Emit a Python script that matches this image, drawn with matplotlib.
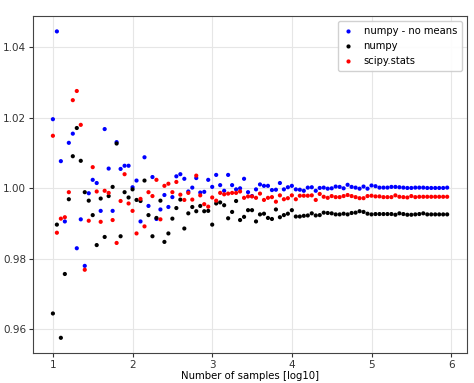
import numpy as np
import matplotlib
matplotlib.use('Agg')
import matplotlib.pyplot as plt

# log10 of the number of samples (100 steps of 0.05)
log_n = np.round(1 + 0.05 * np.arange(100), 2)

# variance ratio, numpy without subtracting the means
numpy_no_means = [
    1.0196, 1.0445, 1.0077, 0.9906, 1.0129, 1.0155, 0.9830, 0.9912, 0.9780, 0.9986,
    1.0024, 1.0015, 0.9936, 1.0168, 1.0056, 0.9936, 1.0131, 1.0055, 1.0064, 1.0064,
    1.0003, 1.0022, 0.9906, 1.0088, 0.9950, 1.0032, 0.9913, 0.9940, 0.9981, 0.9947,
    0.9975, 1.0034, 1.0040, 1.0027, 0.9991, 1.0002, 1.0029, 0.9988, 0.9990, 1.0024,
    1.0004, 1.0038, 1.0009, 0.9993, 1.0038, 1.0009, 0.9997, 1.0000, 1.0027, 0.9989,
    0.9978, 0.9997, 1.0011, 1.0007, 1.0007, 0.9995, 0.9996, 1.0015, 0.9997, 1.0003,
    1.0007, 0.9997, 0.9996, 0.9993, 1.0002, 1.0003, 0.9993, 1.0001, 1.0002, 0.9999,
    1.0000, 1.0005, 1.0004, 1.0000, 1.0010, 1.0004, 1.0002, 0.9999, 1.0005, 0.9999,
    1.0008, 1.0006, 1.0002, 1.0002, 1.0002, 1.0004, 1.0004, 1.0003, 1.0002, 1.0001,
    1.0001, 1.0002, 1.0002, 1.0002, 1.0001, 1.0001, 1.0001, 1.0001, 1.0001, 1.0002,
]

numpy_means = [
    0.9645, 0.9897, 0.9576, 0.9757, 0.9969, 1.0091, 1.0171, 1.0078, 0.9989, 0.9965,
    0.9924, 0.9839, 0.9971, 0.9862, 0.9978, 1.0004, 1.0127, 0.9864, 0.9989, 0.9974,
    0.9997, 0.9967, 0.9964, 1.0022, 0.9924, 0.9864, 0.9916, 0.9965, 0.9848, 0.9872,
    0.9914, 0.9944, 0.9968, 0.9886, 0.9929, 0.9947, 0.9935, 0.9950, 0.9935, 0.9936,
    0.9897, 0.9957, 0.9960, 0.9952, 0.9915, 0.9933, 0.9964, 0.9910, 0.9919, 0.9938,
    0.9938, 0.9906, 0.9926, 0.9928, 0.9916, 0.9913, 0.9940, 0.9918, 0.9924, 0.9928,
    0.9938, 0.9920, 0.9920, 0.9922, 0.9923, 0.9929, 0.9923, 0.9924, 0.9931, 0.9930,
    0.9929, 0.9926, 0.9926, 0.9928, 0.9926, 0.9930, 0.9931, 0.9935, 0.9933, 0.9928,
    0.9926, 0.9927, 0.9927, 0.9927, 0.9927, 0.9927, 0.9925, 0.9929, 0.9927, 0.9925,
    0.9925, 0.9926, 0.9927, 0.9929, 0.9926, 0.9926, 0.9926, 0.9926, 0.9926, 0.9926,
]

scipy_stats = [
    1.0149, 0.9874, 0.9914, 0.9918, 0.9989, 1.0250, 1.0276, 1.0180, 0.9769, 0.9908,
    1.0060, 0.9991, 0.9905, 0.9993, 0.9987, 0.9910, 0.9845, 0.9964, 1.0040, 0.9957,
    0.9936, 0.9872, 0.9970, 0.9892, 0.9989, 0.9978, 1.0024, 0.9912, 1.0007, 1.0013,
    0.9989, 1.0018, 0.9982, 0.9967, 0.9987, 0.9968, 1.0036, 0.9980, 0.9955, 0.9948,
    0.9974, 0.9965, 0.9987, 0.9983, 0.9985, 0.9987, 0.9987, 0.9991, 0.9973, 0.9977,
    0.9977, 0.9973, 0.9985, 0.9967, 0.9973, 0.9975, 0.9962, 0.9980, 0.9969, 0.9972,
    0.9980, 0.9969, 0.9979, 0.9979, 0.9979, 0.9980, 0.9967, 0.9984, 0.9976, 0.9973,
    0.9978, 0.9975, 0.9975, 0.9978, 0.9981, 0.9978, 0.9975, 0.9972, 0.9972, 0.9978,
    0.9979, 0.9977, 0.9977, 0.9975, 0.9975, 0.9975, 0.9980, 0.9976, 0.9975, 0.9974,
    0.9978, 0.9975, 0.9976, 0.9976, 0.9976, 0.9976, 0.9976, 0.9976, 0.9976, 0.9976,
]

fig = plt.figure(figsize=(4.74, 3.83), dpi=100)
ax = fig.add_axes([0.070, 0.078, 0.915, 0.880])

ax.scatter(log_n, numpy_no_means, s=9, c='b', edgecolors='none',
           label='numpy - no means', zorder=3)
ax.scatter(log_n, numpy_means, s=9, c='k', edgecolors='none',
           label='numpy', zorder=3)
ax.scatter(log_n, scipy_stats, s=9, c='r', edgecolors='none',
           label='scipy.stats', zorder=3)

ax.set_xticks([1, 2, 3, 4, 5, 6])
ax.set_yticks([0.96, 0.98, 1.00, 1.02, 1.04])
ax.tick_params(labelsize=7.5, colors='#333333', length=3, pad=2)
ax.grid(True, color='#e6e6e6', linewidth=0.8)
ax.set_axisbelow(True)
for sp in ax.spines.values():
    sp.set_color('#444444')
ax.set_xlabel('Number of samples [log10]', fontsize=7.3, labelpad=1)
ax.legend(loc='upper right', fontsize=7.2, handlelength=1.2,
          handletextpad=0.9, borderpad=0.5, framealpha=0.9)

fig.savefig('out.png', dpi=100)
